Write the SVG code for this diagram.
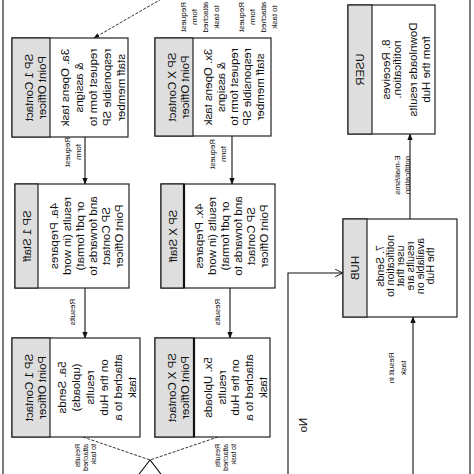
<svg xmlns="http://www.w3.org/2000/svg" width="474" height="474" viewBox="0 0 474 474">
<style>
.box{fill:#fff;stroke:#222;stroke-width:1.2}
.hdr{fill:#dedede;stroke:#222;stroke-width:1.2}
.thick{stroke:#111;stroke-width:2.2}
.ln{fill:none;stroke:#111;stroke-width:1.1}
.dash{fill:none;stroke:#333;stroke-width:1;stroke-dasharray:3 1.5}
text{font-family:"Liberation Sans",Arial,sans-serif;fill:#111;text-anchor:middle}
.t{font-size:11.5px}
.s{font-size:10.5px}
.l{font-size:8px}
.ls{font-size:7px;text-anchor:start}
</style>
<defs>
<marker id="ah" viewBox="0 0 10 10" refX="9" refY="5" markerWidth="6" markerHeight="6" orient="auto">
<path d="M0,1 L10,5 L0,9 z" fill="#111"/>
</marker>
<marker id="oa" viewBox="0 0 10 10" refX="9" refY="5" markerWidth="7" markerHeight="7" orient="auto">
<path d="M0,0 L10,5 L0,10" fill="none" stroke="#111" stroke-width="1.2"/>
</marker>
</defs>
<rect width="474" height="474" fill="#fff"/>
<g transform="matrix(0 1 1 0 0 0)">
<g id="frame">
<line class="ln" x1="0" y1="3" x2="474" y2="3"/>
<line class="ln" x1="0" y1="470" x2="474" y2="470"/>
</g>
<g id="connectors">
<line class="ln" x1="137" y1="85" x2="184" y2="85" marker-end="url(#ah)"/>
<line class="ln" x1="136" y1="232" x2="184" y2="232" marker-end="url(#ah)"/>
<line class="ln" x1="288" y1="85" x2="338" y2="85" marker-end="url(#ah)"/>
<line class="ln" x1="288" y1="230" x2="338" y2="230" marker-end="url(#ah)"/>
<line class="ln" x1="219" y1="410" x2="134" y2="410" marker-end="url(#ah)"/>
<line class="ln" x1="480" y1="413" x2="317" y2="413" marker-end="url(#ah)"/>
<path class="ln" d="M480,288 L273,288 L273,342" marker-end="url(#oa)"/>
<path class="dash" d="M-10,177 L38,94" marker-end="url(#ah)"/>
<path class="dash" d="M437,83 L460,150"/>
<path class="dash" d="M437,218 L460,150"/>
<polygon class="ln" points="460,150 500,119 540,150 500,181"/>
<text class="l" x="17" y="186">Request</text>
<text class="l" x="17" y="197">form</text>
<text class="l" x="17" y="208">attached</text>
<text class="l" x="17" y="219">to task</text>
<text class="l" x="17" y="244">Request</text>
<text class="l" x="17" y="255">form</text>
<text class="l" x="17" y="266">attached</text>
<text class="l" x="17" y="277">to task</text>
<text class="l" x="152" y="70">Request</text>
<text class="l" x="152" y="81">form</text>
<text class="l" x="154" y="215">Request</text>
<text class="l" x="154" y="226">form</text>
<text class="l" x="312" y="75">Results</text>
<text class="l" x="312" y="220">Results</text>
<text class="ls" x="444" y="80">Results</text>
<text class="ls" x="444" y="88">attached</text>
<text class="ls" x="444" y="96">to task</text>
<text class="ls" x="444" y="220">Results</text>
<text class="ls" x="444" y="228">attached</text>
<text class="ls" x="444" y="236">to task</text>
<text class="l" x="175" y="400">E-mail/sms</text>
<text class="l" x="175" y="410">notification</text>
<text class="l" x="368" y="394">Result in</text>
<text class="l" x="368" y="406">task</text>
<text class="t" x="425" y="307">No</text>
</g>
<g id="n3a">
<rect class="box" x="38" y="12" width="99" height="116"/>
<rect class="hdr" x="38" y="12" width="99" height="38"/>
<text class="t" x="87.5" y="33">SP 1 Contact</text>
<text class="t" x="87.5" y="46">Point Officer</text>
<text class="t" x="87.5" y="69">3a. Opens task</text>
<text class="t" x="87.5" y="83">&amp; assigns</text>
<text class="t" x="87.5" y="97">request form to</text>
<text class="t" x="87.5" y="111">responsible SP</text>
<text class="t" x="87.5" y="125">staff member</text>
</g>
<g id="n3x">
<rect class="box" x="38" y="155" width="98" height="116"/>
<rect class="hdr" x="38" y="155" width="98" height="38"/>
<text class="t" x="87" y="176">SP X Contact</text>
<text class="t" x="87" y="189">Point Officer</text>
<text class="t" x="87" y="212">3x. Opens task</text>
<text class="t" x="87" y="225">&amp; assigns</text>
<text class="t" x="87" y="238">request form to</text>
<text class="t" x="87" y="251">responsible SP</text>
<text class="t" x="87" y="264">staff member</text>
</g>
<g id="n4a">
<rect class="box" x="184" y="15" width="104" height="114"/>
<rect class="hdr" x="184" y="15" width="104" height="23"/>
<text class="t" x="236" y="31">SP 1 Staff</text>
<text class="t" x="236" y="58">4a. Prepares</text>
<text class="t" x="236" y="71">results (in word</text>
<text class="t" x="236" y="84">or pdf format)</text>
<text class="t" x="236" y="97">and forwards to</text>
<text class="t" x="236" y="110">SP Contact</text>
<text class="t" x="236" y="123">Point Officer</text>
</g>
<g id="n4x">
<rect class="box" x="184" y="161" width="104" height="114"/>
<rect class="hdr" x="184" y="161" width="104" height="23"/>
<line class="thick" x1="184" y1="184" x2="288" y2="184"/>
<text class="t" x="236" y="177">SP X Staff</text>
<text class="t" x="236" y="203">4x. Prepares</text>
<text class="t" x="236" y="216">results (in word</text>
<text class="t" x="236" y="229">or pdf format)</text>
<text class="t" x="236" y="242">and forwards to</text>
<text class="t" x="236" y="255">SP Contact</text>
<text class="t" x="236" y="268">Point Officer</text>
</g>
<g id="n5a">
<rect class="box" x="338" y="12" width="99" height="128"/>
<rect class="hdr" x="338" y="12" width="99" height="38"/>
<text class="t" x="387.5" y="33">SP 1 Contact</text>
<text class="t" x="387.5" y="46">Point Officer</text>
<text class="t" x="387.5" y="66">5a. Sends</text>
<text class="t" x="387.5" y="80">(uploads)</text>
<text class="t" x="387.5" y="94">results</text>
<text class="t" x="387.5" y="108">on the Hub</text>
<text class="t" x="387.5" y="122">attached to a</text>
<text class="t" x="387.5" y="136">task</text>
</g>
<g id="n5x">
<rect class="box" x="338" y="155" width="99" height="115"/>
<rect class="hdr" x="338" y="155" width="99" height="39"/>
<line class="thick" x1="338" y1="194" x2="437" y2="194"/>
<text class="t" x="387.5" y="176">SP X Contact</text>
<text class="t" x="387.5" y="189">Point Officer</text>
<text class="t" x="387.5" y="212">5x. Uploads</text>
<text class="t" x="387.5" y="226">results</text>
<text class="t" x="387.5" y="239">on the Hub</text>
<text class="t" x="387.5" y="253">attached to a</text>
<text class="t" x="387.5" y="267">task</text>
</g>
<g id="hub">
<rect class="box" x="219" y="343" width="98" height="114"/>
<rect class="hdr" x="219" y="343" width="98" height="24"/>
<text class="t" x="268" y="359">HUB</text>
<text class="s" x="266" y="384">7. Sends</text>
<text class="s" x="266" y="394">notification to</text>
<text class="s" x="266" y="404">user that</text>
<text class="s" x="266" y="414">results are</text>
<text class="s" x="266" y="424">available on</text>
<text class="s" x="266" y="434">the Hub</text>
</g>
<g id="user">
<rect class="box" x="5" y="348" width="129" height="87"/>
<rect class="hdr" x="5" y="348" width="129" height="24"/>
<text class="t" x="69.5" y="364">USER</text>
<text class="t" x="69.5" y="390">8. Receives</text>
<text class="t" x="69.5" y="401">notification.</text>
<text class="t" x="69.5" y="417">Downloads results</text>
<text class="t" x="69.5" y="430">from the Hub</text>
</g>
</g>
</svg>
